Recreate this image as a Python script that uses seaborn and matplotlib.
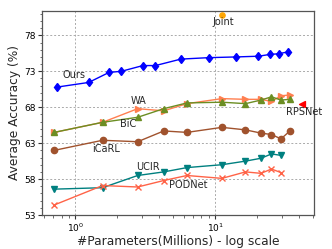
import numpy as np
import pandas as pd
import matplotlib
matplotlib.use("Agg")
import matplotlib.pyplot as plt
import matplotlib.ticker as mticker
import seaborn as sns

# data (params in millions, accuracy in %)
ours_x = [0.74, 1.25, 1.75, 2.14, 3.05, 3.75, 5.7, 9.0, 14.1, 20.4, 24.7, 28.5, 33.2]
ours_y = [70.8, 71.45, 72.85, 73.0, 73.8, 73.8, 74.7, 74.9, 75.0, 75.1, 75.35, 75.45, 75.7]

base_x = [0.71, 1.57, 2.8, 4.3, 6.3, 11.2, 16.5, 21.3, 25.3, 29.6, 34.3]
wa_y = [64.5, 65.9, 67.8, 67.5, 68.5, 69.2, 69.1, 69.1, 68.8, 69.6, 69.7]
bic_y = [64.5, 65.9, 66.6, 67.8, 68.6, 68.7, 68.5, 69.0, 69.45, 69.0, 69.1]
icarl_y = [62.0, 63.4, 63.2, 64.7, 64.5, 65.2, 64.85, 64.4, 64.2, 63.6, 64.7]
ucir_y = [56.6, 56.8, 58.5, 59.0, 59.6, 60.0, 60.5, 60.9, 61.5, 61.3]
podnet_y = [54.4, 57.1, 56.9, 57.8, 58.5, 58.1, 59.0, 58.8, 59.4, 58.9]

joint_x, joint_y = [11.2], [80.9]
rpsnet_x, rpsnet_y = [41.8], [68.5]

sns.set_style("ticks")
plt.rcParams['font.family'] = ['DejaVu Sans']

fig = plt.figure(figsize=(3.32, 2.49), dpi=100)
ax = fig.add_axes([0.1265, 0.1365, 0.8195, 0.8195])

series = [
    (ours_x, ours_y, 'blue', 'd'),
    (base_x, wa_y, 'coral', '>'),
    (base_x, bic_y, 'olivedrab', '^'),
    (base_x, icarl_y, 'sienna', 'o'),
    (base_x[:len(ucir_y)], ucir_y, 'teal', 'v'),
    (base_x[:len(podnet_y)], podnet_y, 'tomato', 'x'),
]
for xs, ys, col, mk in series:
    sns.lineplot(x=xs, y=ys, color=col, marker=mk, markersize=4.5, linewidth=1.0,
                 markeredgecolor=col, markeredgewidth=1, ax=ax)

ax.scatter(joint_x, joint_y, color='orange', s=14, zorder=3)
ax.scatter(rpsnet_x, rpsnet_y, color='red', marker='<', s=18, zorder=3)

fs = 7
ax.text(0.98, 72.5, 'Ours', fontsize=fs, ha='center', va='center')
ax.text(2.83, 68.8, 'WA', fontsize=fs, ha='center', va='center')
ax.text(2.39, 65.6, 'BiC', fontsize=fs, ha='center', va='center')
ax.text(1.66, 62.2, 'iCaRL', fontsize=fs, ha='center', va='center')
ax.text(3.31, 59.65, 'UCIR', fontsize=fs, ha='center', va='center')
ax.text(6.41, 57.15, 'PODNet', fontsize=fs, ha='center', va='center')
ax.text(11.5, 79.8, 'Joint', fontsize=fs, ha='center', va='center')
ax.text(43.2, 67.4, 'RPSNet', fontsize=fs, ha='center', va='center', clip_on=False)

ax.set_xscale('log')
ax.set_xlim(0.58, 51)
ax.set_ylim(53, 81.4)
ax.set_yticks([53, 58, 63, 68, 73, 78])
ax.yaxis.set_minor_locator(mticker.MultipleLocator(1))
ax.xaxis.set_minor_formatter(mticker.NullFormatter())
ax.tick_params(which='major', labelsize=6.5, length=3, width=0.8, pad=1.5,
               colors='#333333', labelcolor='black')
ax.tick_params(which='minor', length=1.8, width=0.6, colors='#555555')
ax.grid(which='major', linestyle=(0, (2, 2)), color='#aaaaaa', linewidth=0.7)
for s in ax.spines.values():
    s.set_color('#555555')
    s.set_linewidth(0.9)

ax.set_xlabel('#Parameters(Millions) - log scale', fontsize=8.8, labelpad=1)
ax.set_ylabel('Average Accuracy (%)', fontsize=8.8, labelpad=2)

fig.savefig('out.png', dpi=100)
